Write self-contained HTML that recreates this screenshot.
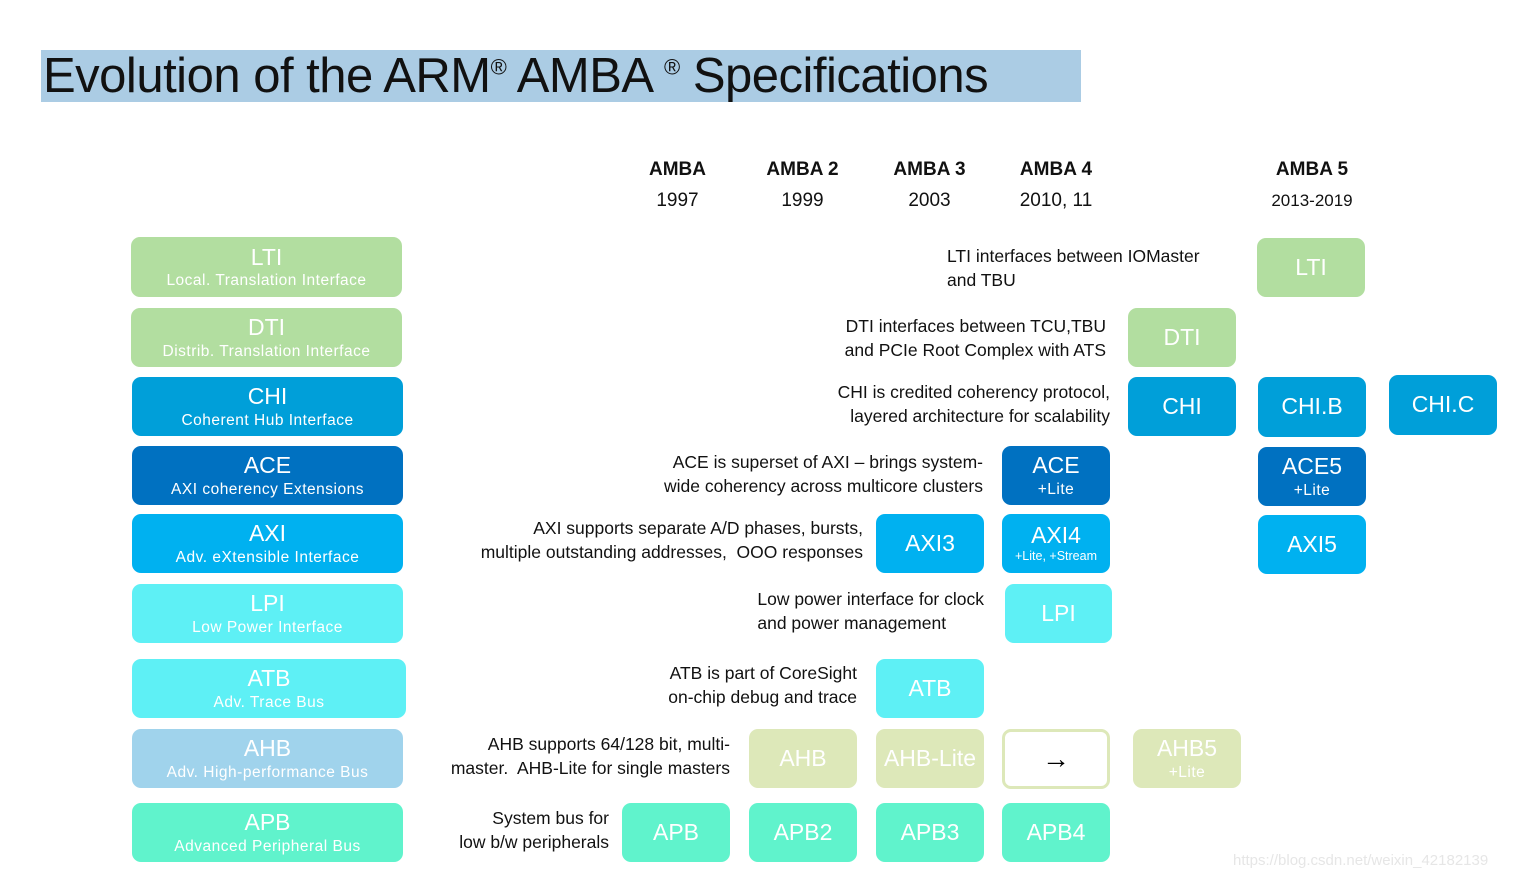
<!DOCTYPE html>
<html><head><meta charset="utf-8"><style>
body{margin:0;width:1514px;height:880px;background:#fff;position:relative;overflow:hidden;font-family:"Liberation Sans",sans-serif;}
.t{position:absolute;left:41px;top:50px;width:1040px;height:52px;background:#abcce4;}
.t span{position:absolute;left:2px;top:-2px;font-size:49px;color:#111;white-space:nowrap;letter-spacing:-0.5px}
.b{position:absolute;border-radius:9px;color:#fff;text-align:center;display:flex;flex-direction:column;justify-content:center;align-items:center;line-height:1.1}
.b .m{font-size:23px}.b .s{font-size:15.5px;letter-spacing:0.5px;margin-top:2px}
.r .m{font-size:23px}
.h{position:absolute;font-size:19px;font-weight:bold;text-align:center;color:#111;line-height:31px}
.d{position:absolute;font-size:17.5px;color:#111;line-height:24px;white-space:nowrap;text-align:right}
.g{background:#b2dea0}.chi{background:#009fd9}.ace{background:#0071c1}.axi{background:#00b1f0}.lpi{background:#5ef0f5}.ahb{background:#a0d3ec}.apb{background:#60f3cc}.y{background:#dde8b9}
</style></head><body>
<div class="t"><span>Evolution of the ARM<sup style="font-size:22px">®</sup> AMBA <sup style="font-size:22px">®</sup> Specifications</span></div>

<div class="h" style="left:630px;top:154px;width:95px">AMBA<br><span style="font-weight:normal">1997</span></div>
<div class="h" style="left:755px;top:154px;width:95px">AMBA 2<br><span style="font-weight:normal">1999</span></div>
<div class="h" style="left:882px;top:154px;width:95px">AMBA 3<br><span style="font-weight:normal">2003</span></div>
<div class="h" style="left:1006px;top:154px;width:100px">AMBA 4<br><span style="font-weight:normal">2010, 11</span></div>
<div class="h" style="left:1262px;top:154px;width:100px">AMBA 5<br><span style="font-weight:normal;font-size:17px">2013-2019</span></div>

<div class="b g" style="left:131px;top:237px;width:271px;height:60px"><div class="m">LTI</div><div class="s">Local. Translation Interface</div></div>
<div class="b g" style="left:131px;top:308px;width:271px;height:59px"><div class="m">DTI</div><div class="s">Distrib. Translation Interface</div></div>
<div class="b chi" style="left:132px;top:377px;width:271px;height:59px"><div class="m">CHI</div><div class="s">Coherent Hub Interface</div></div>
<div class="b ace" style="left:132px;top:446px;width:271px;height:59px"><div class="m">ACE</div><div class="s">AXI coherency Extensions</div></div>
<div class="b axi" style="left:132px;top:514px;width:271px;height:59px"><div class="m">AXI</div><div class="s">Adv. eXtensible Interface</div></div>
<div class="b lpi" style="left:132px;top:584px;width:271px;height:59px"><div class="m">LPI</div><div class="s">Low Power Interface</div></div>
<div class="b lpi" style="left:132px;top:659px;width:274px;height:59px"><div class="m">ATB</div><div class="s">Adv. Trace Bus</div></div>
<div class="b ahb" style="left:132px;top:729px;width:271px;height:59px"><div class="m">AHB</div><div class="s">Adv. High-performance Bus</div></div>
<div class="b apb" style="left:132px;top:803px;width:271px;height:59px"><div class="m">APB</div><div class="s">Advanced Peripheral Bus</div></div>

<div class="d" style="left:947px;top:244px;text-align:left">LTI interfaces between IOMaster<br>and TBU</div>
<div class="d" style="right:408px;top:314px">DTI interfaces between TCU,TBU<br>and PCIe Root Complex with ATS</div>
<div class="d" style="right:404px;top:380px">CHI is credited coherency protocol,<br>layered architecture for scalability</div>
<div class="d" style="right:531px;top:450px">ACE is superset of AXI – brings system-<br>wide coherency across multicore clusters</div>
<div class="d" style="right:651px;top:516px">AXI supports separate A/D phases, bursts,<br>multiple outstanding addresses,&nbsp; OOO responses</div>
<div class="d" style="right:530px;top:587px;text-align:left">Low power interface for clock<br>and power management</div>
<div class="d" style="right:657px;top:661px">ATB is part of CoreSight<br>on-chip debug and trace</div>
<div class="d" style="right:784px;top:732px">AHB supports 64/128 bit, multi-<br>master.&nbsp; AHB-Lite for single masters</div>
<div class="d" style="right:905px;top:806px">System bus for<br>low b/w peripherals</div>

<div class="b r g" style="left:1257px;top:238px;width:108px;height:59px"><div class="m">LTI</div></div>
<div class="b r g" style="left:1128px;top:308px;width:108px;height:59px"><div class="m">DTI</div></div>
<div class="b r chi" style="left:1128px;top:377px;width:108px;height:59px"><div class="m">CHI</div></div>
<div class="b r chi" style="left:1258px;top:377px;width:108px;height:60px"><div class="m">CHI.B</div></div>
<div class="b r chi" style="left:1389px;top:375px;width:108px;height:60px"><div class="m">CHI.C</div></div>
<div class="b r ace" style="left:1002px;top:446px;width:108px;height:59px"><div class="m">ACE</div><div class="s">+Lite</div></div>
<div class="b r ace" style="left:1258px;top:447px;width:108px;height:59px"><div class="m">ACE5</div><div class="s">+Lite</div></div>
<div class="b r axi" style="left:876px;top:514px;width:108px;height:59px"><div class="m">AXI3</div></div>
<div class="b r axi" style="left:1002px;top:514px;width:108px;height:59px"><div class="m">AXI4</div><div class="s" style="font-size:12.5px;letter-spacing:0">+Lite, +Stream</div></div>
<div class="b r axi" style="left:1258px;top:515px;width:108px;height:59px"><div class="m">AXI5</div></div>
<div class="b r lpi" style="left:1005px;top:584px;width:107px;height:59px"><div class="m">LPI</div></div>
<div class="b r lpi" style="left:876px;top:659px;width:108px;height:59px"><div class="m">ATB</div></div>
<div class="b r y" style="left:749px;top:729px;width:108px;height:59px"><div class="m">AHB</div></div>
<div class="b r y" style="left:876px;top:729px;width:108px;height:59px"><div class="m">AHB-Lite</div></div>
<div class="b r" style="left:1002px;top:729px;width:102px;height:54px;border:3px solid #dde8b9;color:#000"><div class="m" style="font-size:28px">&#8594;</div></div>
<div class="b r y" style="left:1133px;top:729px;width:108px;height:59px"><div class="m">AHB5</div><div class="s">+Lite</div></div>
<div class="b r apb" style="left:622px;top:803px;width:108px;height:59px"><div class="m">APB</div></div>
<div class="b r apb" style="left:749px;top:803px;width:108px;height:59px"><div class="m">APB2</div></div>
<div class="b r apb" style="left:876px;top:803px;width:108px;height:59px"><div class="m">APB3</div></div>
<div class="b r apb" style="left:1002px;top:803px;width:108px;height:59px"><div class="m">APB4</div></div>
<div style="position:absolute;left:1233px;top:852px;font-size:15px;color:#e6e6e6">https://blog.csdn.net/weixin_42182139</div>
</body></html>
